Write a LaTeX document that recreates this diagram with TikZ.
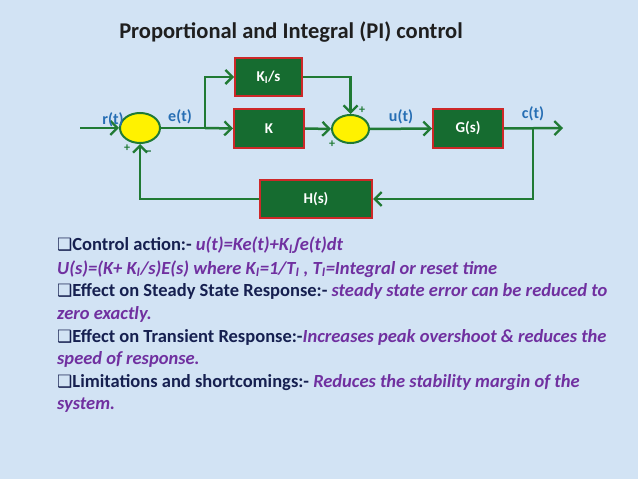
\documentclass[tikz,border=0pt]{standalone}
\usepackage{fontspec}
\setmainfont{Carlito}
\newfontfamily\dejavu{DejaVu Sans}
\usetikzlibrary{arrows.meta,shapes.geometric}
\definecolor{bgblue}{RGB}{210,227,244}
\definecolor{boxgreen}{RGB}{22,108,48}
\definecolor{boxred}{RGB}{205,40,40}
\definecolor{linegreen}{RGB}{32,122,52}
\definecolor{lblblue}{RGB}{38,110,180}
\definecolor{navy}{RGB}{22,32,80}
\definecolor{purp}{RGB}{112,48,160}
\newcommand{\bul}{{\dejavu\fontsize{17bp}{17bp}\selectfont ❑}}
\newcommand{\ssub}[1]{\textsubscript{#1}}
\tikzset{
  blk/.style={draw=boxred, fill=boxgreen, line width=2bp, text=white, font=\fontsize{15bp}{17bp}\selectfont\bfseries, inner sep=0pt},
  summer/.style={ellipse, draw=linegreen, fill=yellow, line width=2bp, inner sep=0pt},
  wire/.style={draw=linegreen, line width=2.5bp},
  arr/.style={wire, -{Straight Barb[length=7bp,width=14bp,line width=2.3bp]}},
  sig/.style={text=lblblue, font=\fontsize{16bp}{18bp}\selectfont\bfseries, inner sep=0pt},
  sgn/.style={text=linegreen, font=\fontsize{12bp}{12bp}\selectfont\bfseries, inner sep=0pt},
  head/.style={anchor=base west, inner sep=0pt, text=navy, font=\fontsize{18.5bp}{21bp}\selectfont\bfseries},
  body/.style={anchor=base west, inner sep=0pt, text=purp, font=\fontsize{18.5bp}{21bp}\selectfont\bfseries\itshape},
}
\begin{document}
\begin{tikzpicture}[x=1bp,y=-1bp]
\fill[bgblue] (0,0) rectangle (638,479);
\useasboundingbox (0,0) rectangle (638,479);

\node[anchor=center, inner sep=0pt, font=\fontsize{22.5bp}{25bp}\selectfont\bfseries, text=black!88] (title) at (291,32) {Proportional and Integral (PI) control};

% blocks
\node[blk, minimum width=67bp, minimum height=38bp] (ki) at (268.5,77) {K\ssub{I}/s};
\node[blk, minimum width=70bp, minimum height=39bp] (k) at (269,128.5) {K};
\node[blk, minimum width=70bp, minimum height=39bp] (g) at (468,128.5) {G(s)};
\node[blk, minimum width=112bp, minimum height=38bp] (h) at (316,199) {H(s)};
\node[summer, minimum width=40bp, minimum height=30bp] (s1) at (140,128) {};
\node[summer, minimum width=37bp, minimum height=28bp] (s2) at (350.5,129) {};

\coordinate (rin) at (80,128);
\coordinate (br) at (205,128);
\coordinate (cbr) at (533,128);
\coordinate (cout) at (563,128);

\draw[arr] (rin) -- (s1.west);
\draw[wire] (s1.east) -- (br);
\draw[arr] (br) -- (k.west);
\draw[arr] (br) |- (ki.west);
\draw[arr] (ki.east) -| (s2.north);
\draw[arr] (k.east) -- (s2.west);
\draw[arr] (s2.east) -- (g.west);
\draw[arr] (g.east) -- (cout);
\draw[arr] (cbr) |- (h.east);
\draw[arr] (h.west) -| (s1.south);

% signal labels
\node[sig] (lr) at (113,120) {r(t)};
\node[sig] (le) at (180,117) {e(t)};
\node[sig] (lu) at (401,117) {u(t)};
\node[sig] (lc) at (533,114) {c(t)};

% signs
\node[sgn] (p1) at (127,148) {+};
\node[sgn, text=boxgreen] (m1) at (148.5,153) {\fontsize{14bp}{14bp}\selectfont –};
\node[sgn] (p2) at (362,110) {+};
\node[sgn] (p3) at (332,144) {+};

% text
\node[head] (t1) at (57,251) {\bul Control action:- {\color{purp}\itshape u(t)=Ke(t)+K\ssub{I}∫e(t)dt}};
\node[body] (t2) at (57,274) {U(s)=(K+ K\ssub{I}/s)E(s) where K\ssub{I}=1/T\ssub{I} , T\ssub{I}=Integral or reset time};
\node[head] (t3) at (57,296) {\bul Effect on Steady State Response:- {\color{purp}\itshape steady state error can be reduced to}};
\node[body] (t4) at (57,319) {zero exactly.};
\node[head] (t5) at (57,342) {\bul Effect on Transient Response:-{\color{purp}\itshape Increases peak overshoot \& reduces the}};
\node[body] (t6) at (57,364) {speed of response.};
\node[head] (t7) at (57,387) {\bul Limitations and shortcomings:- {\color{purp}\itshape Reduces the stability margin of the}};
\node[body] (t8) at (57,409) {system.};
\end{tikzpicture}
\end{document}
